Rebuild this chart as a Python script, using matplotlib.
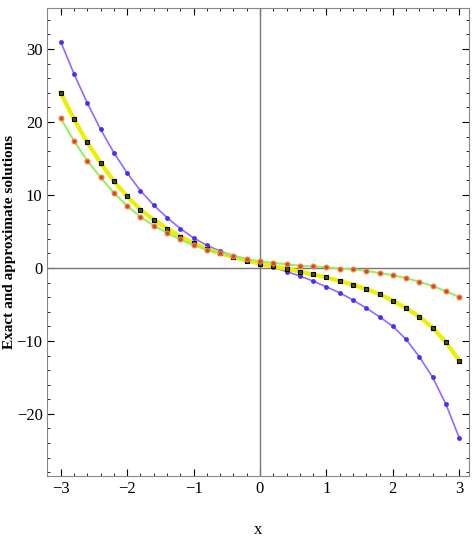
import numpy as np
import matplotlib.pyplot as plt

plt.rcParams['font.family'] = 'Liberation Serif'

x = np.round(np.arange(-3, 3.01, 0.2), 2)
exact_a = [31.0, 26.6, 22.6, 19.0, 15.8, 13.0, 10.6, 8.6, 6.9, 5.4, 4.1, 3.1, 2.3, 1.7, 1.2, 0.7,
           0.1, -0.5, -1.1, -1.8, -2.6, -3.4, -4.4, -5.5, -6.7, -8.0, -9.8, -12.2, -15.0, -18.7, -23.3]
exact_b = [24.0, 20.4, 17.2, 14.4, 11.9, 9.8, 8.0, 6.6, 5.4, 4.3, 3.4, 2.6, 2.0, 1.5, 1.0, 0.6,
           0.2, -0.1, -0.5, -0.9, -1.3, -1.8, -2.3, -2.9, -3.6, -4.5, -5.5, -6.7, -8.2, -10.2, -12.7]
exact_c = [20.5, 17.4, 14.7, 12.4, 10.3, 8.5, 7.0, 5.8, 4.8, 3.9, 3.1, 2.5, 2.0, 1.6, 1.2, 0.9,
           0.7, 0.5, 0.3, 0.2, 0.1, -0.1, -0.2, -0.4, -0.7, -1.0, -1.4, -1.9, -2.5, -3.2, -4.0]

fig = plt.figure(figsize=(4.74, 5.39), dpi=100)
ax = fig.add_axes([0.1, 0.117, 0.89, 0.868])

ax.axhline(0, color='#777777', lw=1)
ax.axvline(0, color='#777777', lw=1)

ax.plot(x, exact_a, color='#9966ff', lw=1.2)
ax.plot(x, exact_a, 'o', color='#4433ee', ms=3.5, mec='none')
ax.plot(x, exact_b, color='#eeee00', lw=3)
ax.plot(x, exact_b, 's', ms=3, mfc='#445500', mec='black', mew=0.8)
ax.plot(x, exact_c, color='#99ee66', lw=1.5)
ax.plot(x, exact_c, 'o', color='#dd4422', ms=3.5, mec='#ee8844', mew=0.8)

ax.set_xlim(-3.2, 3.15)
ax.set_ylim(-28.5, 35.6)
ax.set_xticks([-3, -2, -1, 0, 1, 2, 3])
ax.set_yticks([-20, -10, 0, 10, 20, 30])
ax.set_xticks(np.arange(-3, 3.01, 0.2), minor=True)
ax.set_yticks(np.arange(-28, 36, 2), minor=True)
ax.tick_params(which='both', direction='in', top=True, right=True, labelsize=12)
ax.tick_params(which='major', length=5)
ax.tick_params(which='minor', length=2.5)
for s in ax.spines.values():
    s.set_color('#888888')

ax.set_xlabel('x', fontsize=12, labelpad=18)
ax.set_ylabel('Exact and approximate solutions', fontsize=11, fontweight='bold')
ax.yaxis.set_label_coords(-0.075, 0.5)

fig.savefig('out.png', dpi=100)
